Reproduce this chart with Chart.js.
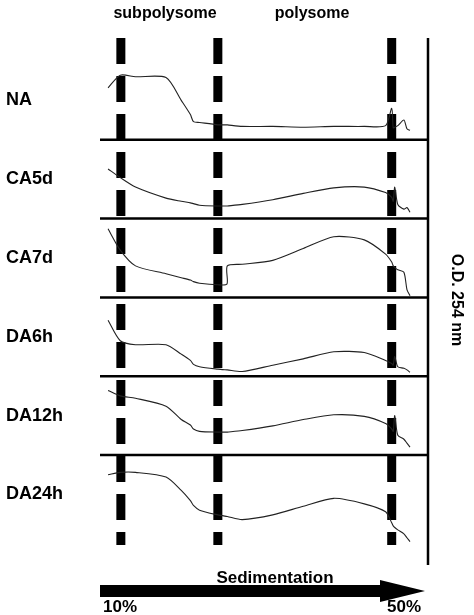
<!DOCTYPE html>
<html><head><meta charset="utf-8">
<script src="https://cdn.jsdelivr.net/npm/chart.js@4/dist/chart.umd.min.js"></script>
<style>html,body{margin:0;padding:0;background:#fff}#w{width:474px;height:615px}</style>
</head><body><div id="w"><canvas id="c"></canvas></div>
<script>
const samples = ["NA","CA5d","CA7d","DA6h","DA12h","DA24h"];
// gradient position (0 = 10%, 1 = 50%)
const traceX = [0.01,0.05,0.1,0.2,0.25,0.28,0.29,0.31,0.37,0.40,0.401,0.45,0.55,0.65,0.75,0.85,0.92,0.94,0.945,0.95,0.96,0.98,0.99,1.0];
// relative O.D. heights per sample (0 = panel baseline, 1 = panel top)
const NA    = [0.66,0.82,0.80,0.79,0.50,0.32,0.23,0.22,0.19,0.19,0.19,0.17,0.17,0.16,0.17,0.17,0.18,0.40,0.15,0.16,0.18,0.25,0.14,0.12];
const CA5d  = [0.63,0.52,0.40,0.26,0.22,0.20,0.19,0.17,0.16,0.16,0.16,0.18,0.24,0.32,0.39,0.40,0.33,0.27,0.22,0.40,0.18,0.12,0.14,0.08];
const CA7d  = [0.87,0.60,0.40,0.30,0.25,0.22,0.20,0.18,0.16,0.17,0.40,0.42,0.47,0.62,0.77,0.73,0.55,0.45,0.40,0.38,0.35,0.32,0.10,0.02];
const DA6h  = [0.71,0.45,0.40,0.40,0.28,0.20,0.15,0.12,0.09,0.08,0.08,0.06,0.14,0.22,0.31,0.30,0.20,0.16,0.14,0.25,0.12,0.10,0.08,0.05];
const DA12h = [0.82,0.75,0.72,0.62,0.45,0.38,0.33,0.30,0.29,0.29,0.29,0.31,0.37,0.45,0.51,0.49,0.40,0.33,0.30,0.50,0.25,0.20,0.15,0.10];
const DA24h = [0.75,0.78,0.78,0.72,0.55,0.42,0.36,0.30,0.24,0.22,0.22,0.18,0.24,0.35,0.45,0.38,0.28,0.14,0.10,0.08,0.05,0.0,-0.05,-0.1];
const series = [NA,CA5d,CA7d,DA6h,DA12h,DA24h];
const markerX = [0.052,0.37,0.94];
const markerTop = ["subpolysome","polysome"];
const yAxisLabel = "O.D. 254 nm";
const xAxisLabel = "Sedimentation";
const gradLabels = ["10%","50%"];

const PX0=105, PW=305, PT=61, PH=78.8;
const toY = (i,v)=> i + (1-v);
const datasets = [];
series.forEach((s,i)=>datasets.push({data:s.map((v,k)=>({x:traceX[k],y:toY(i,v)})),borderColor:'#222',borderWidth:1.1,pointRadius:0,tension:0.25}));
const yTopLine=(38-PT)/PH, yBotLine=(545-PT)/PH;
markerX.forEach(g=>datasets.push({data:[{x:g,y:yTopLine},{x:g,y:yBotLine}],borderColor:'#000',borderWidth:9,borderDash:[26,12],pointRadius:0}));
const gL=(100-PX0)/PW, gR=(428-PX0)/PW;
for(let i=0;i<5;i++) datasets.push({data:[{x:gL,y:i+1},{x:gR,y:i+1}],borderColor:'#000',borderWidth:2.5,pointRadius:0});
datasets.push({data:[{x:gR,y:yTopLine},{x:gR,y:(565-PT)/PH}],borderColor:'#000',borderWidth:2.5,pointRadius:0});

const textPlugin={id:'t',afterDraw(ch){
  const c=ch.ctx, xs=ch.scales.x, ys=ch.scales.y;
  c.save(); c.fillStyle='#000'; c.font='bold 18px "Liberation Sans", Arial';
  c.textBaseline='middle';
  samples.forEach((n,i)=>{c.textAlign='left';c.fillText(n,6,ys.getPixelForValue(i+0.5));});
  c.textAlign='center'; c.font='bold 16px "Liberation Sans", Arial';
  c.fillText(markerTop[0],165,14); c.fillText(markerTop[1],312,14);
  c.font='bold 17px "Liberation Sans", Arial';
  c.fillText(xAxisLabel,275,578);
  c.fillText(gradLabels[0],120,607); c.fillText(gradLabels[1],404,607);
  c.save(); c.translate(456,300); c.rotate(Math.PI/2); c.font='bold 16px "Liberation Sans", Arial'; c.fillText(yAxisLabel,0,0); c.restore();
  const x0=xs.getPixelForValue(gL), x1=xs.getPixelForValue((425-PX0)/PW);
  c.fillRect(x0,585,x1-x0-42,12);
  c.beginPath(); c.moveTo(x1-45,580); c.lineTo(x1,591); c.lineTo(x1-45,602); c.closePath(); c.fill();
  c.restore();
}};

new Chart(document.getElementById('c'),{type:'line',data:{datasets},
 options:{responsive:true,maintainAspectRatio:false,animation:false,
  layout:{padding:0},
  plugins:{legend:{display:false},tooltip:{enabled:false}},
  scales:{x:{type:'linear',display:false,min:-PX0/PW,max:(474-PX0)/PW},
          y:{type:'linear',display:false,reverse:true,min:-PT/PH,max:(615-PT)/PH}}},
 plugins:[textPlugin]});
</script></body></html>
